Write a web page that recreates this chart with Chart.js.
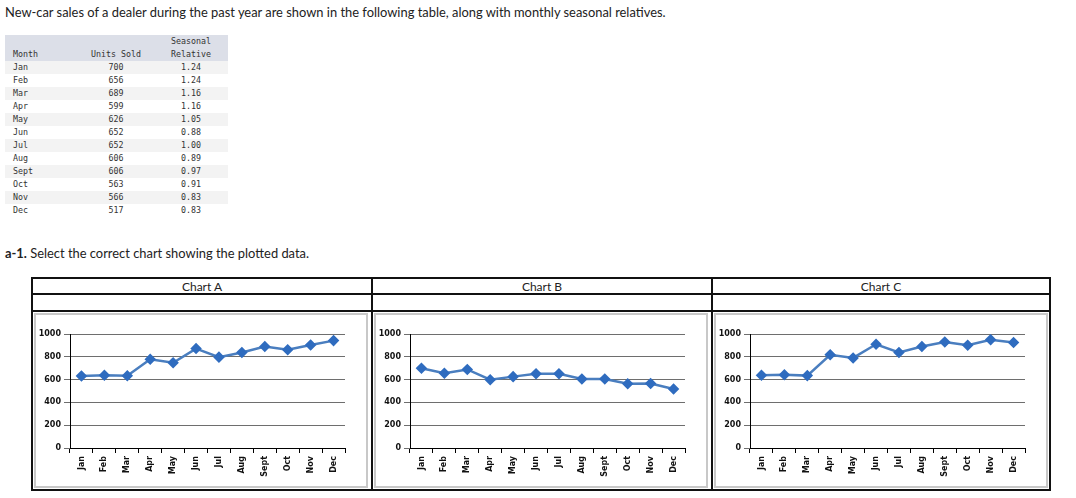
<!DOCTYPE html>
<html>
<head>
<meta charset="utf-8">
<script src="https://cdn.jsdelivr.net/npm/chart.js@4"></script>
<style>
  body { margin: 0; background: #fff; width: 1076px; height: 498px; position: relative; overflow: hidden; font-family: Lato, "Open Sans", sans-serif; }
  .intro { position: absolute; left: 5px; top: 4px; font-size: 12.9px; color: #222; }
  .q { position: absolute; left: 5px; top: 245px; font-size: 12.9px; color: #222; }
  table.data { position: absolute; left: 5px; top: 35px; border-collapse: collapse; font-family: "DejaVu Sans Mono", monospace; font-size: 8.3px; color: #333; }
  table.data td { height: 13px; padding: 0; line-height: 13px; }
  table.data thead td { background: #dcdfe8; }
  table.data tbody tr:nth-child(odd) td { background: #f3f3f3; }
  .c1 { width: 65px; padding-left: 8px !important; text-align: left; }
  .c2 { width: 76px; text-align: center; }
  .c3 { width: 74px; text-align: center; }
  .grid { position: absolute; left: 31px; top: 277px; width: 1020px; height: 214px; border: 2px solid #111; box-sizing: border-box; }
  .hline { position: absolute; left: 0; width: 100%; height: 2px; background: #111; }
  .vline { position: absolute; top: 0; height: 100%; width: 2px; background: #111; }
  .head { position: absolute; top: 0; height: 15px; line-height: 15px; text-align: center; font-size: 12px; color: #222; }
  .cell { position: absolute; top: 33px; width: 336px; height: 177px; }
  .frame { position: absolute; left: 1px; top: 1px; right: 1px; bottom: 1px; border: 2px solid #c8c8c8; }
  canvas { position: absolute; left: 0; top: 0; }
</style>
</head>
<body>
<div class="intro">New-car sales of a dealer during the past year are shown in the following table, along with monthly seasonal relatives.</div>

<table class="data">
  <thead>
    <tr><td class="c1"></td><td class="c2"></td><td class="c3">Seasonal</td></tr>
    <tr><td class="c1">Month</td><td class="c2">Units Sold</td><td class="c3">Relative</td></tr>
  </thead>
  <tbody id="rows"></tbody>
</table>

<div class="q"><b>a-1.</b> Select the correct chart showing the plotted data.</div>

<div class="grid">
  <div class="hline" style="top:14px"></div>
  <div class="hline" style="top:31px"></div>
  <div class="vline" style="left:338px"></div>
  <div class="vline" style="left:678px"></div>
  <div class="head" style="left:0;width:338px">Chart A</div>
  <div class="head" style="left:340px;width:338px">Chart B</div>
  <div class="head" style="left:680px;width:336px">Chart C</div>
  <div class="cell" style="left:0"><div class="frame"></div><canvas id="chartA" width="336" height="177"></canvas></div>
  <div class="cell" style="left:340px"><div class="frame"></div><canvas id="chartB" width="336" height="177"></canvas></div>
  <div class="cell" style="left:680px"><div class="frame"></div><canvas id="chartC" width="336" height="177"></canvas></div>
</div>

<script>
const months = ['Jan', 'Feb', 'Mar', 'Apr', 'May', 'Jun', 'Jul', 'Aug', 'Sept', 'Oct', 'Nov', 'Dec'];
const unitsSold = [700, 656, 689, 599, 626, 652, 652, 606, 606, 563, 566, 517];
const seasonalRelative = ['1.24', '1.24', '1.16', '1.16', '1.05', '0.88', '1.00', '0.89', '0.97', '0.91', '0.83', '0.83'];
const chartAValues = [632, 638, 633, 778, 748, 872, 797, 838, 890, 862, 904, 942];
const chartBValues = [700, 656, 689, 599, 626, 652, 652, 606, 606, 563, 566, 517];
const chartCValues = [638, 642, 635, 818, 790, 910, 838, 890, 930, 902, 950, 925];
const yTicks = [0, 200, 400, 600, 800, 1000];

// table rows
const tbody = document.getElementById('rows');
months.forEach((m, i) => {
    const tr = document.createElement('tr');
    tr.innerHTML = '<td class="c1">' + m + '</td><td class="c2">' + unitsSold[i] + '</td><td class="c3">' + seasonalRelative[i] + '</td>';
    tbody.appendChild(tr);
});

const tickFont = { family: 'Verdana, "DejaVu Sans", sans-serif', size: 8, weight: 'bold' };

const makeChart = (canvasId, values) => {
    const ctx = document.getElementById(canvasId).getContext('2d');
    return new Chart(ctx, {
        type: 'line',
        data: {
            labels: months,
            datasets: [{
                data: values,
                borderColor: '#4a7ebf',
                borderWidth: 2.5,
                pointStyle: 'rectRot',
                pointRadius: 4,
                pointBackgroundColor: '#2f6cbf',
                pointBorderColor: '#2f6cbf',
                tension: 0,
            }],
        },
        options: {
            responsive: false,
            animation: false,
            layout: { padding: { top: 22, right: 24, left: 0, bottom: 0 } },
            plugins: { legend: { display: false }, tooltip: { enabled: false } },
            scales: {
                x: {
                    offset: true,
                    grid: { offset: true, drawOnChartArea: false, drawTicks: true, tickLength: 5, color: '#000' },
                    border: { color: '#000', width: 1 },
                    ticks: { color: '#111', font: tickFont, minRotation: 90, maxRotation: 90, padding: 3, autoSkip: false },
                    afterFit: (scale) => { scale.height = 41; },
                },
                y: {
                    min: 0,
                    max: 1000,
                    afterBuildTicks: (scale) => { scale.ticks = yTicks.map(v => ({ value: v })); },
                    grid: { color: '#6e6e6e', lineWidth: 1, tickLength: 6 },
                    border: { color: '#000', width: 1 },
                    ticks: { color: '#111', font: tickFont, padding: 3, callback: (v) => String(v) },
                    afterFit: (scale) => { scale.width = 37; },
                },
            },
        },
    });
};

makeChart('chartA', chartAValues);
makeChart('chartB', chartBValues);
makeChart('chartC', chartCValues);
</script>
</body>
</html>
